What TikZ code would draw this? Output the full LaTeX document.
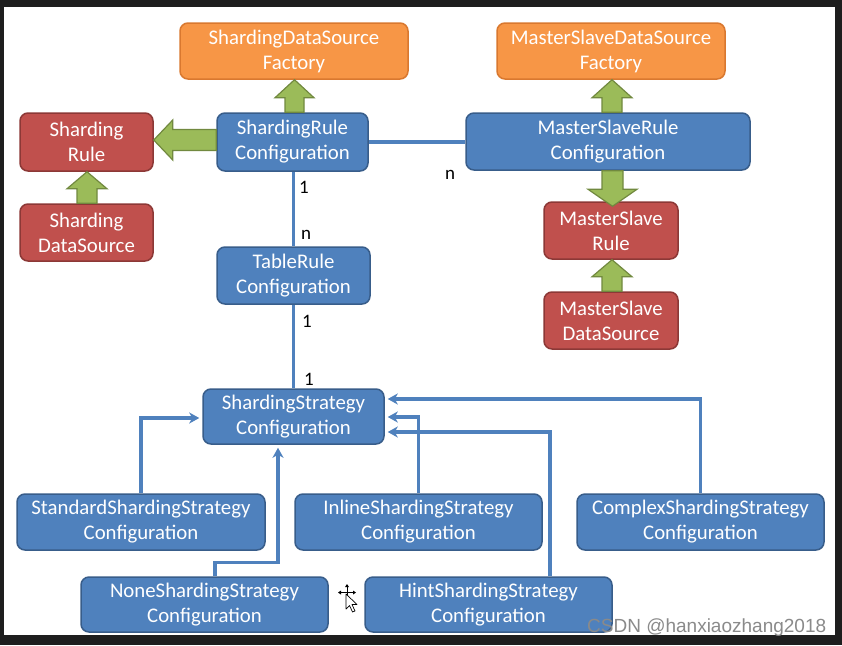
\documentclass[tikz,border=0pt]{standalone}
\usepackage{fontspec}
\setmainfont{Carlito}
\newfontfamily\wmfont{Liberation Sans}
\usetikzlibrary{arrows.meta,calc}
\definecolor{ofill}{HTML}{F79646}
\definecolor{oline}{HTML}{D9782F}
\definecolor{rfill}{HTML}{C0504D}
\definecolor{rline}{HTML}{8C3836}
\definecolor{bfill}{HTML}{4F81BD}
\definecolor{bdraw}{HTML}{385D8A}
\definecolor{gfill}{HTML}{9BBB59}
\definecolor{gline}{HTML}{71893F}
\definecolor{frame}{HTML}{1E1E1E}
\definecolor{wmgray}{HTML}{8A8A8A}
\tikzset{
  box/.style={rounded corners=8pt, line width=1.5pt, inner sep=0pt, align=center,
    text=white, font=\fontsize{20.8}{25}\selectfont},
  obox/.style={box, fill=ofill, draw=oline},
  rbox/.style={box, fill=rfill, draw=rline},
  bbox/.style={box, fill=bfill, draw=bdraw},
  garrow/.style={fill=gfill, draw=gline, line width=1.2pt, line join=miter},
  bl/.style={draw=bfill, line width=3.2pt},
  barrow/.style={bl, -{Stealth[length=10pt,width=11pt,inset=3pt]}, shorten >=3pt},
  lbl/.style={font=\fontsize{19}{19}\selectfont, text=black, inner sep=0pt}
}
% up block arrow: #1 tail node, #2 tip node, #3 shaft half, #4 head half, #5 head length, #6 x offset
\newcommand\gup[6]{%
  \path[garrow] let \p1=(#1.north), \p2=(#2.south) in
   (\x2+#6pt-#3pt,\y1) -- (\x2+#6pt-#3pt,\y2-#5pt) -- (\x2+#6pt-#4pt,\y2-#5pt) -- (\x2+#6pt,\y2)
   -- (\x2+#6pt+#4pt,\y2-#5pt) -- (\x2+#6pt+#3pt,\y2-#5pt) -- (\x2+#6pt+#3pt,\y1) -- cycle;}
\begin{document}
\begin{tikzpicture}[x=1pt,y=-1pt]
\useasboundingbox (0,0) rectangle (842,645);
\fill[frame] (0,0) rectangle (842,645);
\fill[white] (4,7) rectangle (835,635);

% boxes
\node[obox, minimum width=228pt, minimum height=56pt] (sdsf) at (294,51) {ShardingDataSource\\Factory};
\node[obox, minimum width=228pt, minimum height=56pt] (msdsf) at (611,51) {MasterSlaveDataSource\\Factory};
\node[rbox, minimum width=133pt, minimum height=58pt] (sr) at (86.5,142) {Sharding\\Rule};
\node[bbox, minimum width=151pt, minimum height=58pt] (src) at (292.5,142) {ShardingRule\\Configuration};
\node[rbox, minimum width=133pt, minimum height=57pt] (sd) at (86.5,232.5) {Sharding\\DataSource};
\node[bbox, minimum width=153pt, minimum height=57pt] (trc) at (293.5,275.5) {TableRule\\Configuration};
\node[bbox, minimum width=284pt, minimum height=57pt] (msrc) at (608,141.5) {MasterSlaveRule\\Configuration};
\node[rbox, minimum width=134pt, minimum height=57pt] (msr) at (611,230.5) {MasterSlave\\Rule};
\node[rbox, minimum width=134pt, minimum height=57pt] (msd) at (611,320.5) {MasterSlave\\DataSource};
\node[bbox, minimum width=181pt, minimum height=55pt] (ssc) at (293.5,416.5) {ShardingStrategy\\Configuration};
\node[bbox, minimum width=248pt, minimum height=56pt] (std) at (141,522) {StandardShardingStrategy\\Configuration};
\node[bbox, minimum width=247pt, minimum height=56pt] (inl) at (418.5,522) {InlineShardingStrategy\\Configuration};
\node[bbox, minimum width=247pt, minimum height=56pt] (cpx) at (700.5,522) {ComplexShardingStrategy\\Configuration};
\node[bbox, minimum width=247pt, minimum height=55pt] (non) at (204.5,604.5) {NoneShardingStrategy\\Configuration};
\node[bbox, minimum width=247pt, minimum height=55pt] (hnt) at (488.5,604.5) {HintShardingStrategy\\Configuration};

% green block arrows
\gup{src}{sdsf}{9.5}{19.5}{18}{0.5}
\gup{sd}{sr}{10}{20}{17}{0.5}
\gup{msrc}{msdsf}{10}{20}{18}{1}
\gup{msd}{msr}{10}{20}{17}{1}
% down arrow msrc -> msr
\path[garrow] let \p1=(msrc.south), \p2=(msr.north) in
  (\x2+1.5pt-10.5pt,\y1) -- (\x2+1.5pt-10.5pt,\y2+12pt) -- (\x2+1.5pt-24.5pt,\y2+12pt) -- (\x2+1.5pt,\y2-5pt)
  -- (\x2+1.5pt+24.5pt,\y2+12pt) -- (\x2+1.5pt+10.5pt,\y2+12pt) -- (\x2+1.5pt+10.5pt,\y1) -- cycle;
% left arrow src -> sr
\path[garrow] let \p1=(src.west), \p2=(sr.east) in
  (\x1,\y2+2pt+10.5pt) -- (\x2+19pt,\y2+2pt+10.5pt) -- (\x2+19pt,\y2+2pt+20pt) -- (\x2,\y2+2pt)
  -- (\x2+19pt,\y2+2pt-20pt) -- (\x2+19pt,\y2+2pt-10.5pt) -- (\x1,\y2+2pt-10.5pt) -- cycle;

% blue connectors
\draw[bl] (src.east) -- (msrc.west |- src.east);
\draw[bl] (trc.north |- src.south) -- (trc.north);
\draw[bl] (trc.south) -- (ssc.north);
\draw[barrow] (std.north) |- ($(ssc.west)+(0,1.5)$);
\draw[barrow] (inl.north) |- ($(ssc.east)+(0,0.5)$);
\draw[barrow] (cpx.north) |- ($(ssc.east)+(0,-17.5)$);
\draw[barrow] ($(hnt.north)+(61.5,0)$) |- ($(ssc.east)+(0,15.5)$);
\draw[barrow] ($(non.north)+(10.5,0)$) -- ++(0,-14) -| ($(ssc.south)+(-15.5,0)$);

% multiplicity labels
\node[lbl] (l1) at (304,187) {1};
\node[lbl] (l2) at (306,235) {n};
\node[lbl] (l3) at (307,321) {1};
\node[lbl] (l4) at (309,379) {1};
\node[lbl] (l5) at (450,175) {n};

% mouse cursor
\begin{scope}[line width=0.8pt]
  \draw (339,592.5) -- (355,592.5);
  \draw (347,585) -- (347,598);
  \fill (338,592.5) -- (341,590.5) -- (341,594.5) -- cycle;
  \fill (356,592.5) -- (353,590.5) -- (353,594.5) -- cycle;
  \fill (347,584) -- (345,587) -- (349,587) -- cycle;
  \draw[fill=white, line width=0.7pt, line join=round]
    (346,594) -- (346,609) -- (349.5,605.5) -- (352.5,612) -- (355,611) -- (352,604.5) -- (357,604.5) -- cycle;
\end{scope}

% watermark
\node[anchor=base west, inner sep=0pt, text=wmgray, font=\wmfont\fontsize{19}{19}\selectfont] (wm) at (587,632) {CSDN @hanxiaozhang2018};
\end{tikzpicture}
\end{document}
